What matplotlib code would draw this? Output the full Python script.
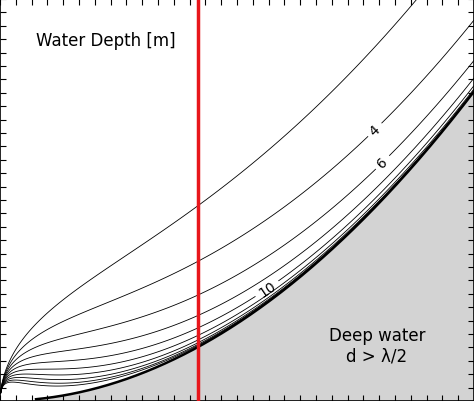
import numpy as np
import matplotlib
matplotlib.use("Agg")
import matplotlib.pyplot as plt

# model parameters (normalized axes 0..1)
deep_coef = 0.77          # deep-water boundary y = coef * x^2
exc_amp, exc_pow = 0.94, 0.554
len_amp, len_pow = 2.4, -0.585
levels = [2, 4, 6, 8, 10, 12, 14, 16, 18, 20]
label_levels = [4, 8, 16]
red_x = 0.418
label_pos = [(0.77, 0.70), (0.81, 0.59), (0.56, 0.285)]

fig = plt.figure(figsize=(4.74, 4.02), dpi=100)
ax = fig.add_axes([0, 0, 1, 1])

x = np.linspace(0.001, 1, 600)
y = np.linspace(0.0, 1, 600)
X, Y = np.meshgrid(x, y)
YB = deep_coef * X**2
C = exc_amp * X**exc_pow
L = len_amp * X**len_pow
E = np.clip(Y - YB, 1e-9, None)
Z = -L * np.log(E / C)
Z = np.where(Y > YB, Z, np.nan)

cs = ax.contour(X, Y, Z, levels=levels, colors='black', linewidths=0.6)
ax.clabel(cs, fmt='%d', fontsize=10, inline=True, manual=label_pos)

xb = x[x > 0.075]
ax.fill_between(xb, 0, deep_coef * xb**2, color='#d3d3d3', zorder=1)
ax.plot(xb, deep_coef * xb**2, color='black', lw=1.8, zorder=3)

ax.axvline(red_x, color='#e8161b', lw=2.5, zorder=4)

ax.text(0.075, 0.885, 'Water Depth [m]', fontsize=12, transform=ax.transAxes)
ax.text(0.795, 0.10, 'Deep water\nd > λ/2', fontsize=12, ha='center',
        linespacing=1.2, transform=ax.transAxes)

ax.set_xlim(0, 1)
ax.set_ylim(0, 1)
ax.set_xticks(np.linspace(0, 1, 31))
ax.set_yticks(np.linspace(0, 1, 31))
ax.tick_params(direction='in', length=4, top=True, right=True,
               labelbottom=False, labelleft=False)
for s in ax.spines.values():
    s.set_linewidth(1.2)
fig.savefig('out.png', dpi=100)
